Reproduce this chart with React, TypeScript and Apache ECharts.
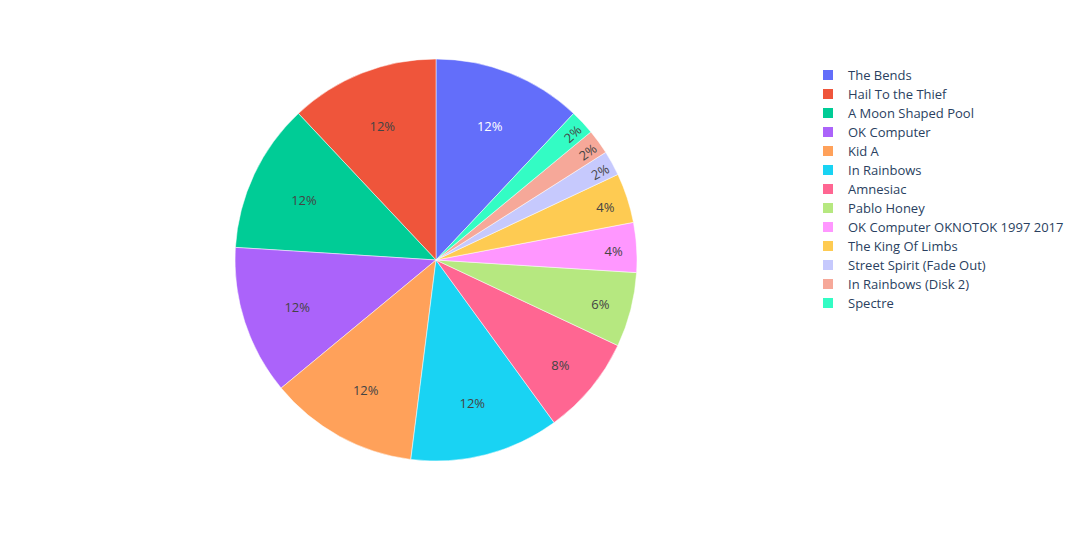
import { useEffect, useRef } from 'react'
import * as echarts from 'echarts'

const albums = [
  'The Bends',
  'Hail To the Thief',
  'A Moon Shaped Pool',
  'OK Computer',
  'Kid A',
  'In Rainbows',
  'Amnesiac',
  'Pablo Honey',
  'OK Computer OKNOTOK 1997 2017',
  'The King Of Limbs',
  'Street Spirit (Fade Out)',
  'In Rainbows (Disk 2)',
  'Spectre',
]
const counts = [6, 6, 6, 6, 6, 6, 4, 3, 2, 2, 1, 1, 1]

const COLORS = [
  '#636efa', '#ef553b', '#00cc96', '#ab63fa', '#ffa15a', '#19d3f3', '#ff6692',
  '#b6e880', '#ff97ff', '#fecb52', '#c6c9fd', '#f6a899', '#33fcc4',
]

// pie geometry (px)
const CX = 436
const CY = 260
const R = 201

// how far out plotly pushes inside labels, by slice size
const labelFrac = (v: number) =>
  v >= 6 ? 0.705 : v >= 4 ? 0.78 : v >= 3 ? 0.82 : v >= 2 ? 0.86 : 0.905

export default function App() {
  const ref = useRef<HTMLDivElement | null>(null)

  useEffect(() => {
    if (!ref.current) return
    const chart = echarts.init(ref.current, null, { renderer: 'svg' })
    chart.setOption({
      animation: false,
      color: COLORS,
      textStyle: { fontFamily: '"Open Sans", verdana, arial, sans-serif' },
      legend: {
        orient: 'vertical',
        left: 816,
        top: 63,
        itemWidth: 12,
        itemHeight: 12,
        itemGap: 5,
        icon: 'rect',
        data: albums,
        textStyle: {
          color: '#2a3f5f',
          fontSize: 13,
          lineHeight: 14,
          padding: [0, 0, 0, 9],
        },
      },
      series: [{
        type: 'pie',
        center: [CX, CY],
        radius: [0, R],
        startAngle: 90 - (counts[0] / counts.reduce((a, b) => a + b, 0)) * 360,
        clockwise: false,
        avoidLabelOverlap: false,
        itemStyle: { borderColor: '#fff', borderWidth: 0.5 },
        label: {
          show: true,
          position: 'inside',
          fontSize: 13,
          color: '#444',
          formatter: (p: { percent: number }) => `${Math.round(p.percent)}%`,
        },
        labelLine: { show: false },
        labelLayout: (p: { dataIndex: number; labelRect: { x: number; y: number; width: number; height: number } }) => {
          const k = labelFrac(counts[p.dataIndex]) / 0.5
          const lx = p.labelRect.x + p.labelRect.width / 2
          const ly = p.labelRect.y + p.labelRect.height / 2
          return { x: CX + (lx - CX) * k, y: CY + (ly - CY) * k + 2 }
        },
        emphasis: { disabled: true },
        data: albums.map((name, i) => ({
          name,
          value: counts[i],
          label: {
            ...(i === 0 ? { color: '#fff' } : {}),
            ...(counts[i] <= 1 ? { rotate: 'radial' } : {}),
          },
        })),
      }],
    })
    return () => chart.dispose()
  }, [])

  return (
    <div
      ref={ref}
      style={{ position: 'fixed', left: 0, top: 0, width: 1081, height: 542, background: '#fff' }}
    />
  )
}
